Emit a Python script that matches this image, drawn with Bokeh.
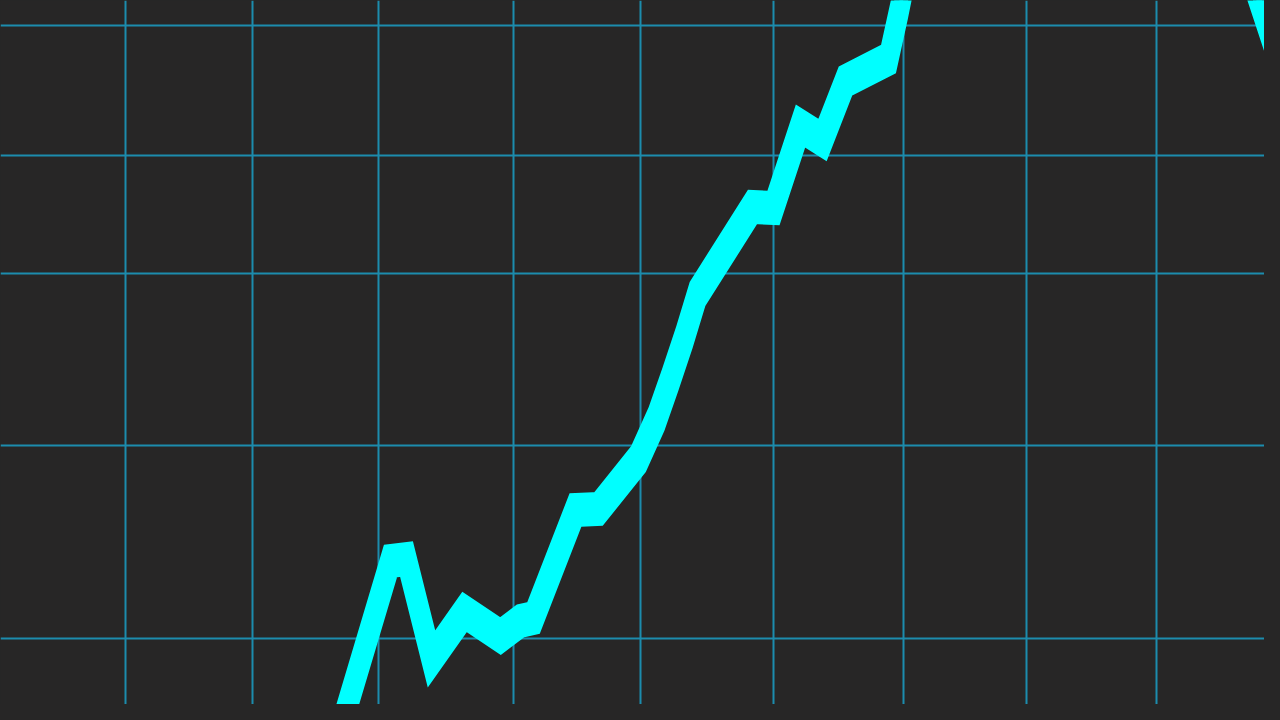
from bokeh.plotting import figure
from bokeh.models import Range1d, Grid, FixedTicker
from bokeh.embed import file_html
from bokeh.resources import INLINE
from bokeh.core.templates import get_env

# time index (x) and price (y)
t = [328, 390, 406, 431, 464, 500, 520, 533, 575, 598, 638, 656, 670, 684, 697,
     752, 773, 800, 822, 845, 888, 899, 903, 960, 1150, 1245, 1301]
price = [-40, 168, 170, 70, 117, 93, 108, 111, 219, 220, 270, 310, 350, 392, 435,
         522, 521, 603, 589, 648, 670, 720, 740, 880, 890, 770, 600]
band = 17  # thickness of the ribbon in price units

x_grid = [125, 252, 378, 513, 640, 773, 903, 1026, 1156]
y_grid = [695, 565, 447, 275, 82]

BG = "#272626"
GRID = "#1c8cad"
CYAN = "#00ffff"

p = figure(width=1264, height=704, output_backend="svg", toolbar_location=None,
           x_axis_type=None, y_axis_type=None,
           x_range=Range1d(0, 1264), y_range=Range1d(16, 720),
           background_fill_color=BG, border_fill_color=BG,
           min_border=0, outline_line_color=None)

p.add_layout(Grid(dimension=0, ticker=FixedTicker(ticks=x_grid),
                  grid_line_color=GRID, grid_line_width=2))
p.add_layout(Grid(dimension=1, ticker=FixedTicker(ticks=y_grid),
                  grid_line_color=GRID, grid_line_width=2))

lower = [v - band for v in price]
p.varea(x=t, y1=lower, y2=price, fill_color=CYAN)
p.line(t, price, line_color=CYAN, line_width=17, line_join="miter")
p.line(t, lower, line_color=CYAN, line_width=17, line_join="miter")

tmpl = get_env().from_string(
    '{% extends "file.html" %}{% block preamble %}'
    '<style>html,body{background:#272626;overflow:hidden;}</style>'
    '{% endblock %}')

open("out.html", "w").write(file_html(p, INLINE, template=tmpl))
